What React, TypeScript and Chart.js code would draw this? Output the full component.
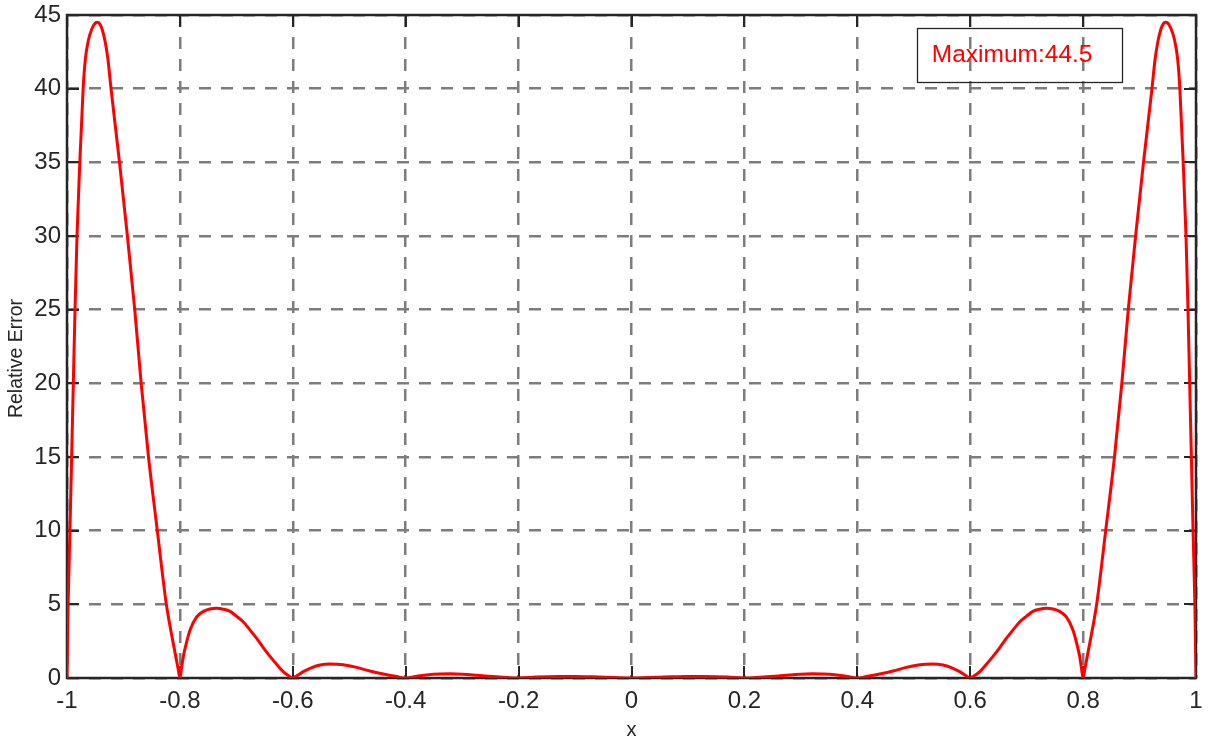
import React, { useEffect, useRef } from 'react';
import { Chart, registerables } from 'chart.js';

Chart.register(...registerables);

// ---- data ----
const xValues = [
  -1, -0.999, -0.998, -0.9948, -0.9918, -0.9888, -0.9858, -0.9823, -0.9773, -0.9714,
  -0.9675, -0.962, -0.9555, -0.95, -0.946, -0.942, -0.9375, -0.9325, -0.9275, -0.922,
  -0.907, -0.893, -0.88, -0.8686, -0.8556, -0.84, -0.824, -0.812, -0.803, -0.8,
  -0.797, -0.794, -0.788, -0.782, -0.77, -0.7585, -0.747, -0.735, -0.723, -0.711,
  -0.7, -0.688, -0.676, -0.664, -0.652, -0.64, -0.628, -0.617, -0.608, -0.6,
  -0.594, -0.5814, -0.5695, -0.5518, -0.534, -0.5105, -0.4868, -0.4632, -0.4397, -0.416, -0.4,
  -0.38, -0.36, -0.34, -0.32, -0.3, -0.28, -0.26, -0.24, -0.22, -0.2,
  -0.17, -0.13, -0.1, -0.07, -0.03, 0,
  0.03, 0.07, 0.1, 0.13, 0.17, 0.2,
  0.22, 0.24, 0.26, 0.28, 0.3, 0.32, 0.34, 0.36, 0.38, 0.4,
  0.416, 0.4397, 0.4632, 0.4868, 0.5105, 0.534, 0.5518, 0.5695, 0.5814, 0.594, 0.6,
  0.608, 0.617, 0.628, 0.64, 0.652, 0.664, 0.676, 0.688, 0.7, 0.711,
  0.723, 0.735, 0.747, 0.7585, 0.77, 0.782, 0.788, 0.794, 0.797, 0.8,
  0.803, 0.812, 0.824, 0.84, 0.8556, 0.8686, 0.88, 0.893, 0.907, 0.922,
  0.9275, 0.9325, 0.9375, 0.942, 0.946, 0.95, 0.9555, 0.962, 0.9675, 0.9714,
  0.9773, 0.9823, 0.9858, 0.9888, 0.9918, 0.9948, 0.998, 0.999, 1,
];

const yValues = [
  0, 2.5, 5, 10, 15, 20, 25, 30, 35, 40,
  42.0, 43.3, 44.1, 44.45, 44.5, 44.4, 44.0, 43.2, 42.0, 40,
  35, 30, 25, 20, 15, 10, 5, 2.4, 0.6, 0,
  0.7, 1.45, 2.45, 3.26, 4.16, 4.52, 4.68, 4.73, 4.67, 4.52,
  4.2, 3.82, 3.27, 2.69, 2.05, 1.45, 0.9, 0.43, 0.17, 0,
  0.12, 0.43, 0.66, 0.88, 0.95, 0.9, 0.72, 0.47, 0.27, 0.1, 0,
  0.12, 0.22, 0.27, 0.28, 0.26, 0.21, 0.14, 0.08, 0.03, 0,
  0.06, 0.1, 0.1, 0.08, 0.03, 0,
  0.03, 0.08, 0.1, 0.1, 0.06, 0,
  0.03, 0.08, 0.14, 0.21, 0.26, 0.28, 0.27, 0.22, 0.12, 0,
  0.1, 0.27, 0.47, 0.72, 0.9, 0.95, 0.88, 0.66, 0.43, 0.12, 0,
  0.17, 0.43, 0.9, 1.45, 2.05, 2.69, 3.27, 3.82, 4.2, 4.52,
  4.67, 4.73, 4.68, 4.52, 4.16, 3.26, 2.45, 1.45, 0.7, 0,
  0.6, 2.4, 5, 10, 15, 20, 25, 30, 35, 40,
  42.0, 43.2, 44.0, 44.4, 44.5, 44.45, 44.1, 43.3, 42.0, 40,
  35, 30, 25, 20, 15, 10, 5, 2.5, 0,
];

const xTicks = [-1, -0.8, -0.6, -0.4, -0.2, 0, 0.2, 0.4, 0.6, 0.8, 1];
const xTickLabels = ['-1', '-0.8', '-0.6', '-0.4', '-0.2', '0', '0.2', '0.4', '0.6', '0.8', '1'];
const yTicks = [0, 5, 10, 15, 20, 25, 30, 35, 40, 45];
const yTickLabels = ['0', '5', '10', '15', '20', '25', '30', '35', '40', '45'];

const xTitle = 'x';
const yTitle = 'Relative Error';
const annotationText = 'Maximum:44.5';
// annotation box corners and text anchor, in data units
const annotationBox = { x0: 0.5055, x1: 0.8689, y0: 44.1, y1: 40.48 };
const annotationTextAnchor = { x: 0.532, y: 41.82 };

// ---- styles ----
const FONT = '"Liberation Sans", Arial, Helvetica, sans-serif';
const AXIS_COLOR = '#262626';
const GRID_COLOR = '#7d7d7d';
const LINE_COLOR = '#ff0000';

const framePlugin = {
  id: 'matlabFrame',
  beforeDatasetsDraw(chart: any) {
    const { ctx, chartArea, scales } = chart;
    const { left, right, top, bottom } = chartArea;
    const x = scales.x;
    const y = scales.y;
    const tl = 12;
    ctx.save();
    ctx.strokeStyle = AXIS_COLOR;
    ctx.lineWidth = 2;
    ctx.setLineDash([]);
    ctx.beginPath();
    xTicks.forEach((v) => {
      const px = Math.round(x.getPixelForValue(v));
      ctx.moveTo(px, bottom);
      ctx.lineTo(px, bottom - tl);
      ctx.moveTo(px, top);
      ctx.lineTo(px, top + tl);
    });
    yTicks.forEach((v) => {
      const py = Math.round(y.getPixelForValue(v));
      ctx.moveTo(left, py);
      ctx.lineTo(left + tl, py);
      ctx.moveTo(right, py);
      ctx.lineTo(right - tl, py);
    });
    ctx.stroke();
    ctx.lineWidth = 2.5;
    ctx.strokeRect(left, top, right - left, bottom - top);
    ctx.restore();
  },
  afterDatasetsDraw(chart: any) {
    const { ctx, scales, chartArea } = chart;
    const x = scales.x;
    const y = scales.y;
    const bx0 = Math.round(x.getPixelForValue(annotationBox.x0)) + 0.5;
    const bx1 = Math.round(x.getPixelForValue(annotationBox.x1)) + 0.5;
    const by0 = Math.round(y.getPixelForValue(annotationBox.y0)) + 0.5;
    const by1 = Math.round(y.getPixelForValue(annotationBox.y1)) + 0.5;
    ctx.save();
    ctx.strokeStyle = AXIS_COLOR;
    ctx.lineWidth = 1.3;
    ctx.setLineDash([]);
    ctx.strokeRect(bx0, by0, bx1 - bx0, by1 - by0);
    ctx.fillStyle = LINE_COLOR;
    ctx.font = `24.5px ${FONT}`;
    ctx.textAlign = 'left';
    ctx.textBaseline = 'alphabetic';
    ctx.fillText(
      annotationText,
      x.getPixelForValue(annotationTextAnchor.x),
      y.getPixelForValue(annotationTextAnchor.y)
    );
    // y axis title
    ctx.translate(17, (chartArea.top + chartArea.bottom) / 2 + 12);
    ctx.rotate(-Math.PI / 2);
    ctx.fillStyle = AXIS_COLOR;
    ctx.font = `19.5px ${FONT}`;
    ctx.textAlign = 'center';
    ctx.textBaseline = 'middle';
    ctx.fillText(yTitle, 0, 0);
    ctx.restore();
  },
};

export default function App() {
  const ref = useRef<HTMLCanvasElement | null>(null);

  useEffect(() => {
    document.body.style.margin = '0';
    const canvas = ref.current;
    if (!canvas) return;
    const points = xValues.map((xv, i) => ({ x: xv, y: yValues[i] }));
    const chart = new Chart(canvas, {
      type: 'line',
      data: {
        datasets: [
          {
            data: points,
            borderColor: LINE_COLOR,
            backgroundColor: LINE_COLOR,
            borderWidth: 3,
            pointRadius: 0,
            fill: false,
            cubicInterpolationMode: 'monotone',
          } as any,
        ],
      },
      options: {
        responsive: false,
        animation: false,
        devicePixelRatio: 1,
        events: [],
        layout: { padding: { top: 15, right: 17, left: 0, bottom: 0 } },
        plugins: {
          legend: { display: false },
          tooltip: { enabled: false },
        },
        scales: {
          x: {
            type: 'linear',
            min: -1,
            max: 1,
            afterBuildTicks: (axis: any) => {
              axis.ticks = xTicks.map((v) => ({ value: v }));
            },
            afterFit: (axis: any) => {
              axis.height = 67;
              axis.paddingLeft = 0;
              axis.paddingRight = 0;
            },
            ticks: {
              autoSkip: false,
              maxRotation: 0,
              padding: 9,
              color: AXIS_COLOR,
              font: { family: FONT, size: 24 },
              callback: (_v: any, i: number) => xTickLabels[i],
            },
            grid: {
              color: GRID_COLOR,
              lineWidth: 2.5,
              drawTicks: false,
            },
            border: { display: false, dash: [12, 10] },
            title: {
              display: true,
              text: xTitle,
              color: AXIS_COLOR,
              font: { family: FONT, size: 20 },
              padding: { top: 0, bottom: 3 },
            },
          },
          y: {
            type: 'linear',
            min: 0,
            max: 45,
            afterBuildTicks: (axis: any) => {
              axis.ticks = yTicks.map((v) => ({ value: v }));
            },
            afterFit: (axis: any) => {
              axis.width = 67;
              axis.paddingTop = 0;
              axis.paddingBottom = 0;
            },
            ticks: {
              autoSkip: false,
              padding: 6,
              color: AXIS_COLOR,
              font: { family: FONT, size: 24 },
              callback: (_v: any, i: number) => yTickLabels[i],
            },
            grid: {
              color: GRID_COLOR,
              lineWidth: 2.5,
              drawTicks: false,
            },
            border: { display: false, dash: [12, 10] },
            title: { display: false },
          },
        },
      } as any,
      plugins: [framePlugin],
    });
    return () => chart.destroy();
  }, []);

  return (
    <div style={{ width: 1213, height: 745 }}>
      <canvas ref={ref} width={1213} height={745} style={{ display: 'block', width: 1213, height: 745 }} />
    </div>
  );
}
